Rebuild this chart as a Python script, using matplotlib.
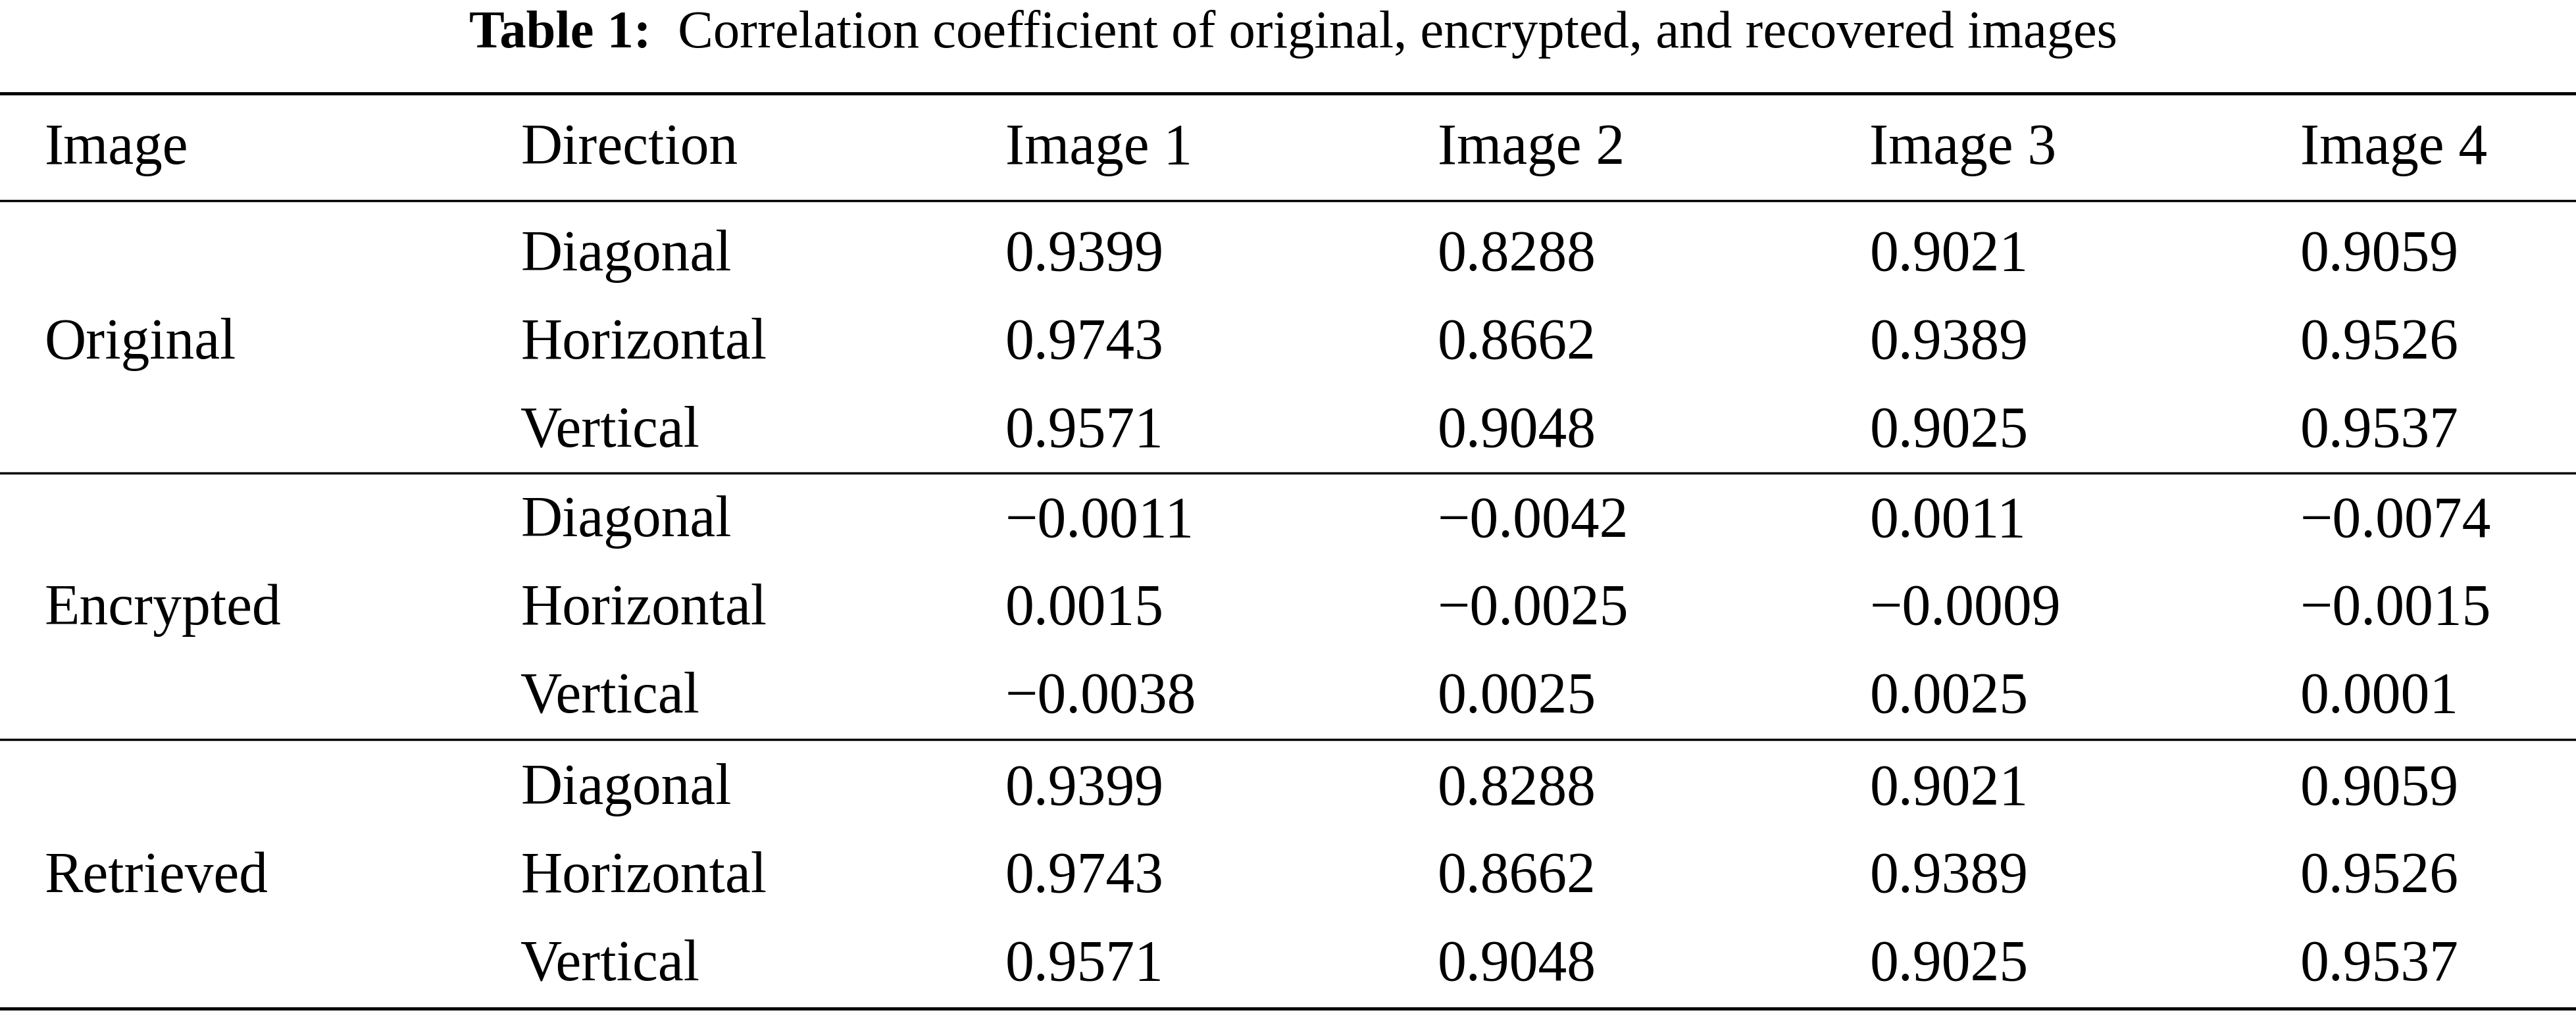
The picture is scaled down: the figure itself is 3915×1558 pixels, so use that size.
import matplotlib
matplotlib.use("Agg")
import matplotlib.pyplot as plt
from matplotlib.lines import Line2D

title_bold = "Table 1:"
title_rest = "  Correlation coefficient of original, encrypted, and recovered images"
headers = ["Image", "Direction", "Image 1", "Image 2", "Image 3", "Image 4"]
groups = ["Original", "Encrypted", "Retrieved"]
directions = ["Diagonal", "Horizontal", "Vertical"]
original = [["0.9399", "0.8288", "0.9021", "0.9059"],
            ["0.9743", "0.8662", "0.9389", "0.9526"],
            ["0.9571", "0.9048", "0.9025", "0.9537"]]
encrypted = [["\u22120.0011", "\u22120.0042", "0.0011", "\u22120.0074"],
             ["0.0015", "\u22120.0025", "\u22120.0009", "\u22120.0015"],
             ["\u22120.0038", "0.0025", "0.0025", "0.0001"]]
retrieved = original
blocks = [original, encrypted, retrieved]

W, H = 1568.0, 624.0
fig = plt.figure(figsize=(39.15, 15.58), dpi=100)
fs = 63
tfs = 58
font = "Liberation Serif"

def X(x): return x / W
def Y(y): return 1 - y / H

def hline(y, lw):
    fig.add_artist(Line2D([X(0), X(W)], [Y(y), Y(y)], color="black", lw=lw))

t1 = fig.text(0.5, Y(21), title_bold + title_rest, fontsize=tfs, family=font, alpha=0)
fig.canvas.draw()
bb = t1.get_window_extent()
x0 = (fig.bbox.width - bb.width) / 2 / fig.bbox.width
tb = fig.text(x0, Y(21), title_bold, fontsize=tfs, family=font, weight="bold", va="center")
fig.canvas.draw()
bw = tb.get_window_extent().width / fig.bbox.width
fig.text(x0 + bw, Y(21), title_rest, fontsize=tfs, family=font, va="center")

hline(57, 3.5)
hline(122, 2.5)
hline(288, 2.5)
hline(450, 2.5)
hline(614, 3.5)

cols = [27, 317, 612, 875, 1138, 1400]
for c, h in zip(cols, headers):
    fig.text(X(c), Y(91), h, fontsize=fs, family=font, va="center")

row_starts = [156, 318, 481]
step = 53.5
for g, (name, block, ys) in enumerate(zip(groups, blocks, row_starts)):
    fig.text(X(cols[0]), Y(ys + step), name, fontsize=fs, family=font, va="center")
    for r, d in enumerate(directions):
        y = ys + r * step
        fig.text(X(cols[1]), Y(y), d, fontsize=fs, family=font, va="center")
        for k, v in enumerate(block[r]):
            fig.text(X(cols[2 + k]), Y(y), v, fontsize=fs, family=font, va="center")

fig.savefig("out.png", dpi=100, facecolor="white")
